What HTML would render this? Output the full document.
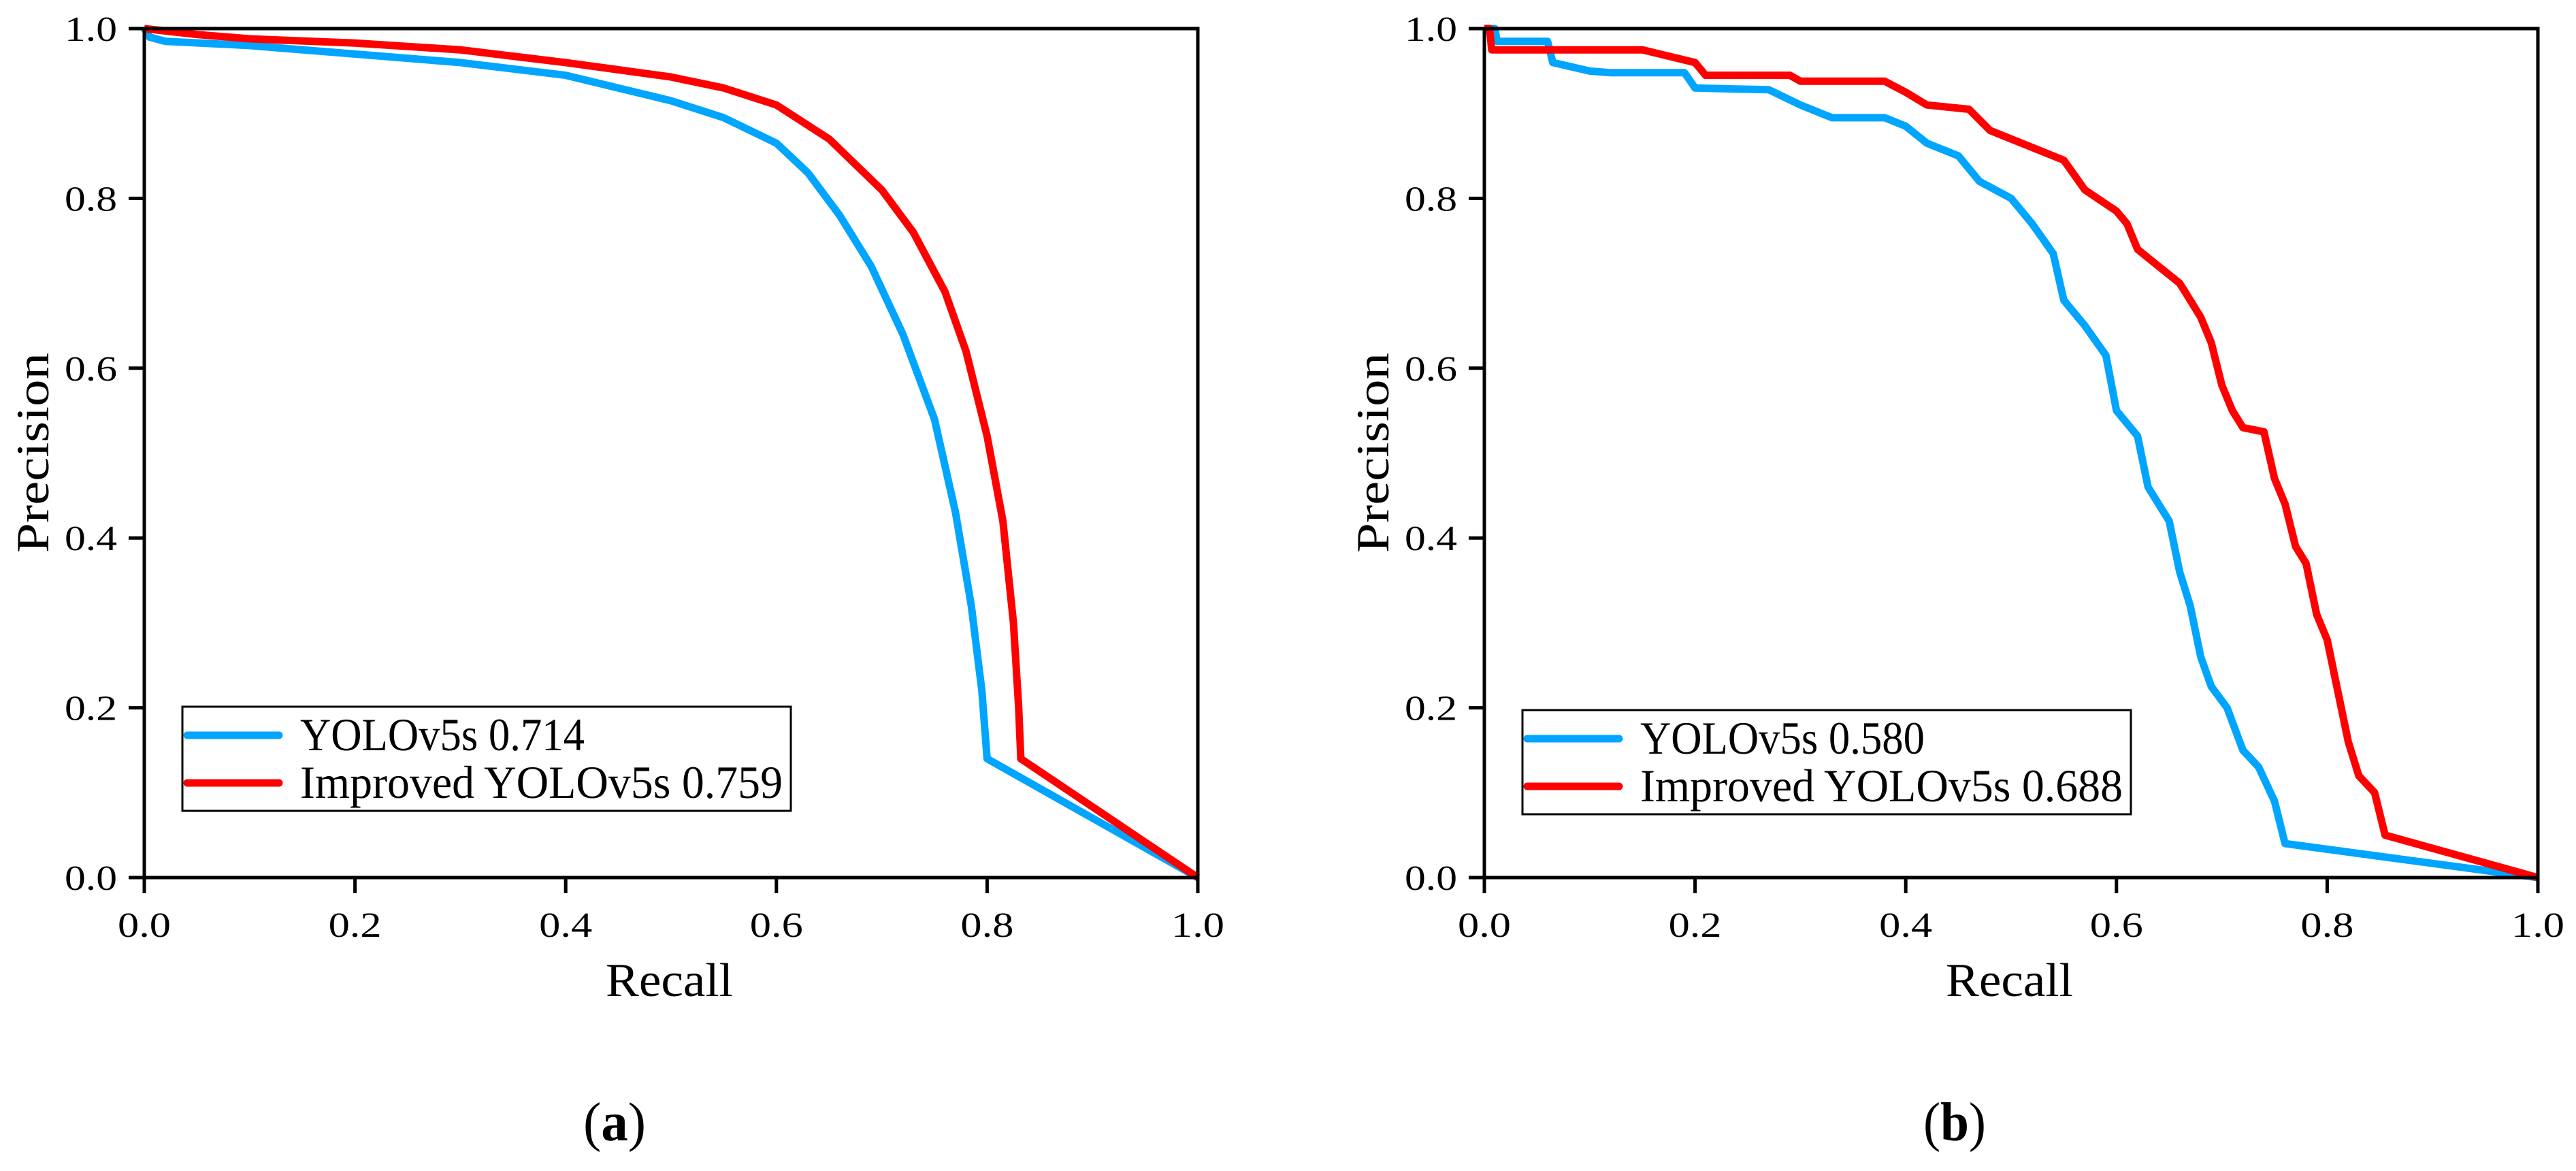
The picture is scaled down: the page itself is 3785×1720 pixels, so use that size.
<!DOCTYPE html>
<html><head><meta charset="utf-8"><style>
html,body{margin:0;padding:0;background:#fff;}
svg{display:block;}
text{font-family:"Liberation Serif","Noto Serif CJK SC",serif;fill:#000;}
</style></head><body>
<svg id="fig" width="3785" height="1720" viewBox="0 0 3785 1720" xmlns="http://www.w3.org/2000/svg"></svg>
<script>
const tickValues = [0, 0.2, 0.4, 0.6, 0.8, 1.0];
const tickLabels = ["0.0", "0.2", "0.4", "0.6", "0.8", "1.0"];
const seriesNames = ["YOLOv5s", "Improved YOLOv5s"];
const mapA = ["0.714", "0.759"];
const mapB = ["0.580", "0.688"];
const aBlueR = [0,0.005,0.02,0.1,0.2,0.3,0.4,0.45,0.5,0.55,0.6,0.63,0.66,0.69,0.72,0.75,0.77,0.785,0.795,0.8,1.0];
const aBlueP = [1.0,0.99,0.985,0.98,0.97,0.96,0.945,0.93,0.915,0.895,0.865,0.83,0.78,0.72,0.64,0.54,0.43,0.32,0.22,0.14,0.0];
const aRedR = [0,0.05,0.1,0.2,0.3,0.4,0.5,0.55,0.6,0.65,0.7,0.73,0.76,0.78,0.8,0.815,0.825,0.83,0.832,1.0];
const aRedP = [1.0,0.993,0.988,0.983,0.975,0.96,0.943,0.93,0.91,0.87,0.81,0.76,0.69,0.62,0.52,0.42,0.3,0.2,0.14,0.0];
const bBlueR = [0,0.01,0.012,0.06,0.065,0.1,0.12,0.19,0.2,0.27,0.3,0.33,0.38,0.4,0.42,0.45,0.47,0.5,0.52,0.54,0.55,0.57,0.59,0.6,0.62,0.63,0.65,0.66,0.67,0.68,0.69,0.705,0.72,0.735,0.75,0.76,1.0];
const bBlueP = [1.0,1.0,0.985,0.985,0.96,0.95,0.948,0.948,0.93,0.928,0.91,0.895,0.895,0.885,0.865,0.85,0.82,0.8,0.77,0.735,0.68,0.65,0.615,0.55,0.52,0.46,0.42,0.36,0.32,0.26,0.225,0.2,0.15,0.13,0.09,0.04,0.0];
const bRedR = [0,0.005,0.007,0.15,0.2,0.21,0.29,0.3,0.38,0.4,0.42,0.46,0.48,0.52,0.55,0.57,0.6,0.61,0.62,0.64,0.66,0.67,0.68,0.69,0.7,0.71,0.72,0.74,0.75,0.76,0.77,0.78,0.79,0.8,0.81,0.82,0.83,0.845,0.855,1.0];
const bRedP = [1.0,1.0,0.975,0.975,0.96,0.945,0.945,0.938,0.938,0.925,0.91,0.905,0.88,0.86,0.845,0.81,0.785,0.77,0.74,0.72,0.7,0.68,0.66,0.63,0.58,0.55,0.53,0.525,0.47,0.44,0.39,0.37,0.31,0.28,0.22,0.16,0.12,0.1,0.05,0.0];

const NS = "http://www.w3.org/2000/svg";
const svg = document.getElementById('fig');
function mk(tag, attrs, parent){const e=document.createElementNS(NS,tag);for(const k in attrs)e.setAttribute(k,attrs[k]);(parent||svg).appendChild(e);return e;}

function panel(id, X0, legDy, blueR, blueP, redR, redP, maps, letter){
  const X1 = X0 + 1548, Y0 = 1289, Y1 = 42;
  const sx = v => X0 + v*(X1-X0);
  const sy = v => Y0 - v*(Y0-Y1);
  const g = mk('g',{});
  
  
  // series
  const series = [[blueR,blueP,'#00A5FF','blue'],[redR,redP,'#FF0000','red']];
  series.forEach((s,i)=>{
    const pts = s[0].map((r,j)=>sx(r).toFixed(1)+','+sy(s[1][j]).toFixed(1)).join(' ');
    const pl = mk('polyline',{points:pts,fill:'none',stroke:s[2],'stroke-width':11,'stroke-linejoin':'round'},g);
    
    
  });
  // frame
  const fr = mk('rect',{x:X0,y:Y1,width:X1-X0,height:Y0-Y1,fill:'none',stroke:'#000','stroke-width':5},g);
  
  
  // ticks
  tickValues.forEach((v,i)=>{
    const tx = mk('line',{x1:sx(v),x2:sx(v),y1:Y0,y2:Y0+23,stroke:'#000','stroke-width':5},g);
    
    
    const lx = mk('text',{x:sx(v)-39,y:1376,'font-size':52,textLength:78,lengthAdjust:'spacingAndGlyphs'},g);
    lx.textContent = tickLabels[i];
    
    
    const ty = mk('line',{x1:X0-23,x2:X0,y1:sy(v),y2:sy(v),stroke:'#000','stroke-width':5},g);
    
    
    const ly = mk('text',{x:X0-117,y:sy(v)+18,'font-size':52,textLength:77,lengthAdjust:'spacingAndGlyphs'},g);
    ly.textContent = tickLabels[i];
    
    
  });
  // axis titles
  const xt = mk('text',{x:X0+678,y:1463,'font-size':70,textLength:187,lengthAdjust:'spacingAndGlyphs'},g);
  xt.textContent = 'Recall';
  
  
  const yt = mk('text',{x:0,y:0,'font-size':68,textLength:294,lengthAdjust:'spacingAndGlyphs',transform:`translate(${X0-141},812) rotate(-90)`},g);
  yt.textContent = 'Precision';
  
  
  // legend
  const LX = X0+56, LY = 1038+legDy;
  const lg = mk('g',{},g);
  
  
  mk('rect',{x:LX,y:LY,width:894,height:153,fill:'#fff',stroke:'#000','stroke-width':3},lg);
  ['#00A5FF','#FF0000'].forEach((c,i)=>{
    const yy = LY + 42 + i*70;
    const sw = mk('line',{x1:LX+7,x2:LX+142,y1:yy,y2:yy,stroke:c,'stroke-width':11,'stroke-linecap':'round'},lg);
    
    
    const txt = seriesNames[i] + ' ' + maps[i];
    const t = mk('text',{x:LX+173,y:yy+22,'font-size':68,textLength:i==0?418:709,lengthAdjust:'spacingAndGlyphs'},lg);
    t.textContent = txt;
    
    
  });
  // panel label
  const pl = mk('text',{x:X0+645,y:1675,'font-size':80,textLength:92,lengthAdjust:'spacingAndGlyphs'},g);
  pl.innerHTML = '(<tspan font-weight="bold">'+letter+'</tspan>)';
  
  
}
panel('a', 212, 0, aBlueR, aBlueP, aRedR, aRedP, mapA, 'a');
panel('b', 2181, 5, bBlueR, bBlueP, bRedR, bRedP, mapB, 'b');
</script>
</body></html>
